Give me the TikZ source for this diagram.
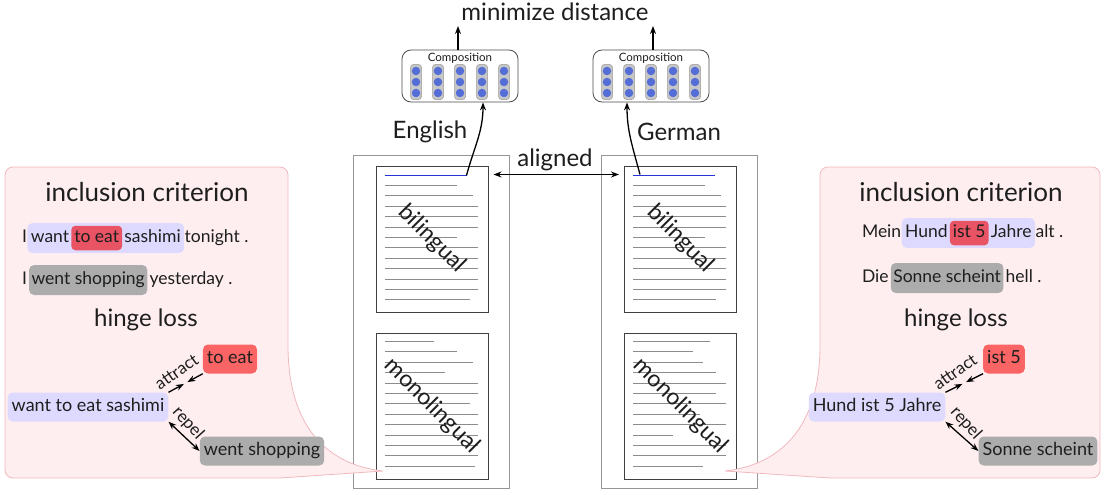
\documentclass[tikz,border=0pt]{standalone}
\usepackage{fontspec}
\setmainfont{Lato}
\usepackage{tikz}
\usetikzlibrary{positioning,arrows.meta,calc,fit}
\definecolor{ccPink}{RGB}{255,238,240}
\definecolor{ccPinkLine}{RGB}{240,185,190}
\definecolor{ccLav}{RGB}{222,218,255}
\definecolor{ccRed}{RGB}{232,84,100}
\definecolor{ccRedNode}{RGB}{250,100,100}
\definecolor{ccGray}{RGB}{172,172,172}
\definecolor{ccDot}{RGB}{85,110,215}
\definecolor{ccBlue}{RGB}{40,50,220}
\definecolor{ccFrame}{RGB}{150,150,150}
\definecolor{ccInk}{RGB}{30,30,30}
\pgfdeclarelayer{back}
\pgfdeclarelayer{mid}
\pgfsetlayers{back,mid,main}
\tikzset{
    base/.style={text=ccInk, inner sep=1pt},
    heading/.style={base, font=\fontsize{24}{28}\selectfont},
    callout/.style={draw=ccPinkLine, fill=ccPink, line width=0.8pt},
    word/.style={base, font=\fontsize{17.5}{20}\selectfont, inner xsep=1.8pt, inner ysep=4.25pt,
                 text height=12.5pt, text depth=3.5pt},
    redword/.style={word, fill=ccRed, rounded corners=4pt, inner xsep=3pt},
    grayword/.style={word, fill=ccGray, rounded corners=5pt, inner xsep=2.5pt, inner ysep=7pt},
    lavspan/.style={fill=ccLav, rounded corners=5pt, inner xsep=1.5pt, inner ysep=2.5pt},
    lossnode/.style={base, font=\fontsize{18}{22}\selectfont, rounded corners=5pt,
                     inner xsep=4pt, inner ysep=6pt, text height=13pt, text depth=4pt},
    tag/.style={base, font=\fontsize{17}{20}\selectfont},
    flow/.style={->, >={Stealth[length=8pt,width=6pt]}, line width=1.3pt, color=black},
    frame/.style={draw=ccFrame, line width=0.8pt, minimum width=156pt, minimum height=333pt},
    doc/.style={draw=black!75, line width=1pt, fill=white, minimum width=112pt, minimum height=146pt},
    docline/.style={draw=black!45, line width=0.9pt},
    doctext/.style={base, font=\fontsize{23}{26}\selectfont, rotate=-45},
    compbox/.style={draw=black!70, fill=white, rounded corners=9pt, line width=0.8pt,
                    minimum width=116pt, minimum height=52pt},
    column/.style={draw=black!40, fill=black!22, rounded corners=3pt, line width=0.5pt,
                   minimum width=11pt, minimum height=35pt},
    neuron/.style={circle, fill=ccDot, minimum size=8.5pt, inner sep=0pt}
}

\begin{document}
\begin{tikzpicture}[x=1pt, y=-1pt]
  \useasboundingbox (0,0) rectangle (1106,495);

  \begin{pgfonlayer}{back}
  % Corpora
  \node[frame] (frameL) at (431,321.5) {};
  \node[frame] (frameR) at (679.5,321.5) {};
  \node[doc] (bilL) at (432,239) {};
  \node[doc] (monoL) at (432,406) {};
  \node[doc] (bilR) at (680.5,239) {};
  \node[doc] (monoR) at (680.5,406) {};

  \draw[ccBlue, line width=1.8pt] ($(bilL.north west)+(9,10)$) coordinate (blueLbeg) -- ++(82,0) coordinate (blueLend);
  \draw[ccBlue, line width=1.8pt] ($(bilR.north west)+(9,10)$) coordinate (blueRbeg) -- ++(82,0) coordinate (blueRend);
  \foreach \w [count=\i] in {72,88,93,93,93,72,93,93,93,93,93,85}
    \draw[docline] ($(bilL.north west)+(9,9.5+\i*10.4)$) -- ++(\w,0);
  \foreach \w [count=\i] in {72,88,93,93,93,72,93,93,93,93,93,83}
    \draw[docline] ($(bilR.north west)+(9,9.5+\i*10.4)$) -- ++(\w,0);
  \foreach \w [count=\i from 0] in {49,72,88,60,93,93,85,93,93,93,93,93,90}
    \draw[docline] ($(monoL.north west)+(9,9+\i*10.4)$) -- ++(\w,0);
  \foreach \w [count=\i from 0] in {77,60,70,83,93,83,93,67,93,40,93,93,70}
    \draw[docline] ($(monoR.north west)+(9,9+\i*10.4)$) -- ++(\w,0);

  \node[doctext] (bilLtxt) at (bilL.center) {bilingual};
  \node[doctext] (monoLtxt) at (monoL.center) {monolingual};
  \node[doctext] (bilRtxt) at (bilR.center) {bilingual};
  \node[doctext] (monoRtxt) at (monoR.center) {monolingual};

  % Callouts
  \draw[callout] (383,471) .. controls (330,465) and (288,430) .. (288,345)
    [rounded corners=8pt] -- (288,167) -- (5,167) -- (5,478) [sharp corners] -- (280,478) -- cycle;
  \draw[callout] (725,471) .. controls (778,465) and (820,430) .. (820,345)
    [rounded corners=8pt] -- (820,167) -- (1100,167) -- (1100,478) [sharp corners] -- (830,478) -- cycle;
  \end{pgfonlayer}

  % Composition
  \foreach \side/\cx in {L/460, R/651} {
    \node[compbox] (comp\side) at (\cx,76) {};
    \node[base, font=\fontsize{11.5}{13}\selectfont] (comp\side lab) at ($(comp\side.center)+(0,-18)$) {Composition};
    \foreach \dx [count=\i] in {-44,-22,0,22,44} {
      \node[column] (col\side\i) at ($(comp\side.center)+(\dx,6)$) {};
      \foreach \dy [count=\j] in {-11,0,11}
        \node[neuron] (dot\side\i\j) at ($(col\side\i.center)+(0,\dy)$) {};
    }
  }

  \node[heading] (goal) at (555,12) {minimize distance};
  \coordinate (goalL) at (458,26);
  \coordinate (goalR) at (653,26);
  \draw[flow] (compL.north -| goalL) -- (goalL);
  \draw[flow] (compR.north -| goalR) -- (goalR);

  \node[heading] (langL) at (430,132) {English};
  \node[heading] (langR) at (679,132) {German};
  \draw[flow] (blueLend) to[out=75, in=-90] ($(compL.south)+(23,0)$);
  \draw[flow] ($(blueRbeg)+(7,-1)$) to[out=105, in=-90] ($(compR.south)+(-24,0)$);

  \coordinate (alL) at ($(bilL.north east)+(5,9)$);
  \coordinate (alR) at ($(bilR.north west)+(-5,9)$);
  \draw[flow, <->] (alL) -- (alR);
  \node[heading] (aligned) at (555,160) {aligned};

  % English inclusion criterion
  \node[heading, font=\fontsize{26}{30}\selectfont] (critL) at (147,192) {inclusion criterion};
  \node[word, anchor=west] (e1w1) at (20,238) {I};
  \node[word, right=0pt of e1w1] (e1w2) {want};
  \node[redword, right=0pt of e1w2] (e1w3) {to eat};
  \node[word, right=0pt of e1w3] (e1w4) {sashimi};
  \node[word, right=0pt of e1w4] (e1w5) {tonight .};
  \node[word, anchor=west] (e2w1) at (20,280) {I};
  \node[grayword, right=0pt of e2w1] (e2w2) {went shopping};
  \node[word, right=0pt of e2w2] (e2w3) {yesterday .};
  \begin{pgfonlayer}{mid}
    \node[lavspan, fit=(e1w2)(e1w4)] (e1span) {};
  \end{pgfonlayer}

  \node[heading] (hingeL) at (146,320) {hinge loss};
  \node[lossnode, fill=ccLav] (ws) at (88,407) {want to eat sashimi};
  \node[lossnode, fill=ccRedNode] (te) at (230,359) {to eat};
  \node[lossnode, fill=ccGray] (gs) at (262,451) {went shopping};
  \coordinate (midL) at ($(ws.north east)!0.5!(te.south west)$);
  \draw[flow, shorten >=2pt] (ws.north east) -- (midL);
  \draw[flow, shorten >=2pt] (te.south west) -- (midL);
  \node[tag, rotate=35] (attL) at ($(midL)+(-9,-11)$) {attract};
  \draw[flow, <->] (ws.south east) -- (gs.west);
  \node[tag, rotate=-48] (repL) at ($(ws.south east)!0.5!(gs.west)+(4,-13)$) {repel};

  % German inclusion criterion
  \node[heading, font=\fontsize{26}{30}\selectfont] (critR) at (961,192) {inclusion criterion};
  \node[word, anchor=west] (g1w1) at (860,233) {Mein};
  \node[word, right=0pt of g1w1] (g1w2) {Hund};
  \node[redword, right=0pt of g1w2] (g1w3) {ist 5};
  \node[word, right=0pt of g1w3] (g1w4) {Jahre};
  \node[word, right=0pt of g1w4] (g1w5) {alt .};
  \node[word, anchor=west] (g2w1) at (860,278) {Die};
  \node[grayword, right=0pt of g2w1] (g2w2) {Sonne scheint};
  \node[word, right=0pt of g2w2] (g2w3) {hell .};
  \begin{pgfonlayer}{mid}
    \node[lavspan, fit=(g1w2)(g1w4)] (g1span) {};
  \end{pgfonlayer}

  \node[heading] (hingeR) at (956,320) {hinge loss};
  \node[lossnode, fill=ccLav] (hj) at (877,407) {Hund ist 5 Jahre};
  \node[lossnode, fill=ccRedNode] (i5) at (1004,359) {ist 5};
  \node[lossnode, fill=ccGray] (ss) at (1038,451) {Sonne scheint};
  \coordinate (midR) at ($(hj.north east)!0.5!(i5.south west)$);
  \draw[flow, shorten >=2pt] (hj.north east) -- (midR);
  \draw[flow, shorten >=2pt] (i5.south west) -- (midR);
  \node[tag, rotate=35] (attR) at ($(midR)+(-9,-11)$) {attract};
  \draw[flow, <->] (hj.south east) -- (ss.west);
  \node[tag, rotate=-48] (repR) at ($(hj.south east)!0.5!(ss.west)+(4,-13)$) {repel};
\end{tikzpicture}
\end{document}
